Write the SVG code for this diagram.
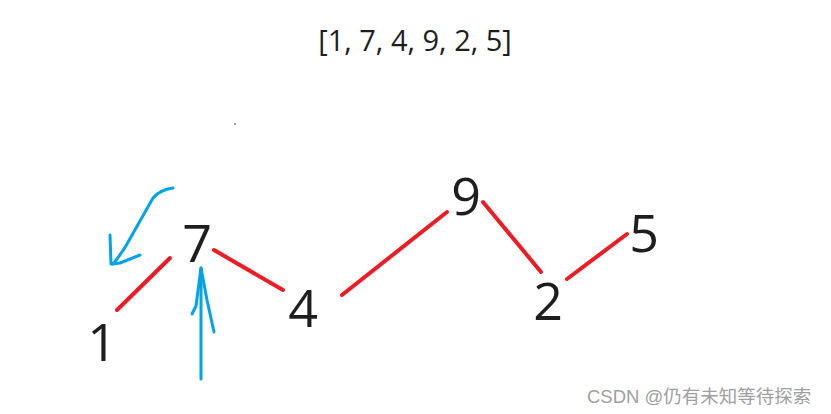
<svg xmlns="http://www.w3.org/2000/svg" width="831" height="414" viewBox="0 0 831 414">
<style>
.num{font-family:"Open Sans","Noto Sans","DejaVu Sans",sans-serif;font-size:52px;fill:#1e1e1e;text-anchor:middle}
.title{font-family:"Open Sans","Noto Sans","DejaVu Sans",sans-serif;font-size:29px;fill:#1e1e1e;text-anchor:middle}
.red{stroke:#ed1c24;stroke-width:4;stroke-linecap:round;fill:none}
.blue{stroke:#00a2e8;stroke-width:3;stroke-linecap:round;stroke-linejoin:round;fill:none}
.wm{font-family:"Liberation Sans","Noto Sans CJK SC",sans-serif;font-size:18.5px;fill:#a0a0a0}
</style>
<rect width="831" height="414" fill="#ffffff"/>
<text class="title" x="415" y="51">[1, 7, 4, 9, 2, 5]</text>
<circle cx="235" cy="124" r="0.8" fill="#333"/>
<g id="n1"><text class="num" x="102" y="361">1</text></g>
<g id="n7"><text class="num" x="197" y="262">7</text></g>
<g id="n4"><text class="num" x="303" y="327">4</text></g>
<g id="n9"><text class="num" x="466" y="215">9</text></g>
<g id="n2"><text class="num" x="548" y="320">2</text></g>
<g id="n5"><text class="num" x="644" y="252">5</text></g>
<g id="connectors">
<line class="red" x1="117" y1="310" x2="170" y2="258"/>
<line class="red" x1="214" y1="250" x2="283" y2="290"/>
<line class="red" x1="342" y1="295" x2="447" y2="212"/>
<line class="red" x1="483" y1="202" x2="541" y2="272"/>
<line class="red" x1="567" y1="279" x2="627" y2="234"/>
</g>
<g id="annotations">
<path class="blue" d="M173,188 C165,189 158,192 153,198 C145,212 135,230 127,244 C122,253 117,259 113,264"/>
<path class="blue" d="M110,235 L111,264 L120,263 L140,255"/>
<path class="blue" d="M201,379 L201,268"/>
<path class="blue" d="M192,314 L196,306 L201,268 L207,300 L214,332"/>
</g>
<text class="wm" x="587" y="403">CSDN @仍有未知等待探索</text>
</svg>
